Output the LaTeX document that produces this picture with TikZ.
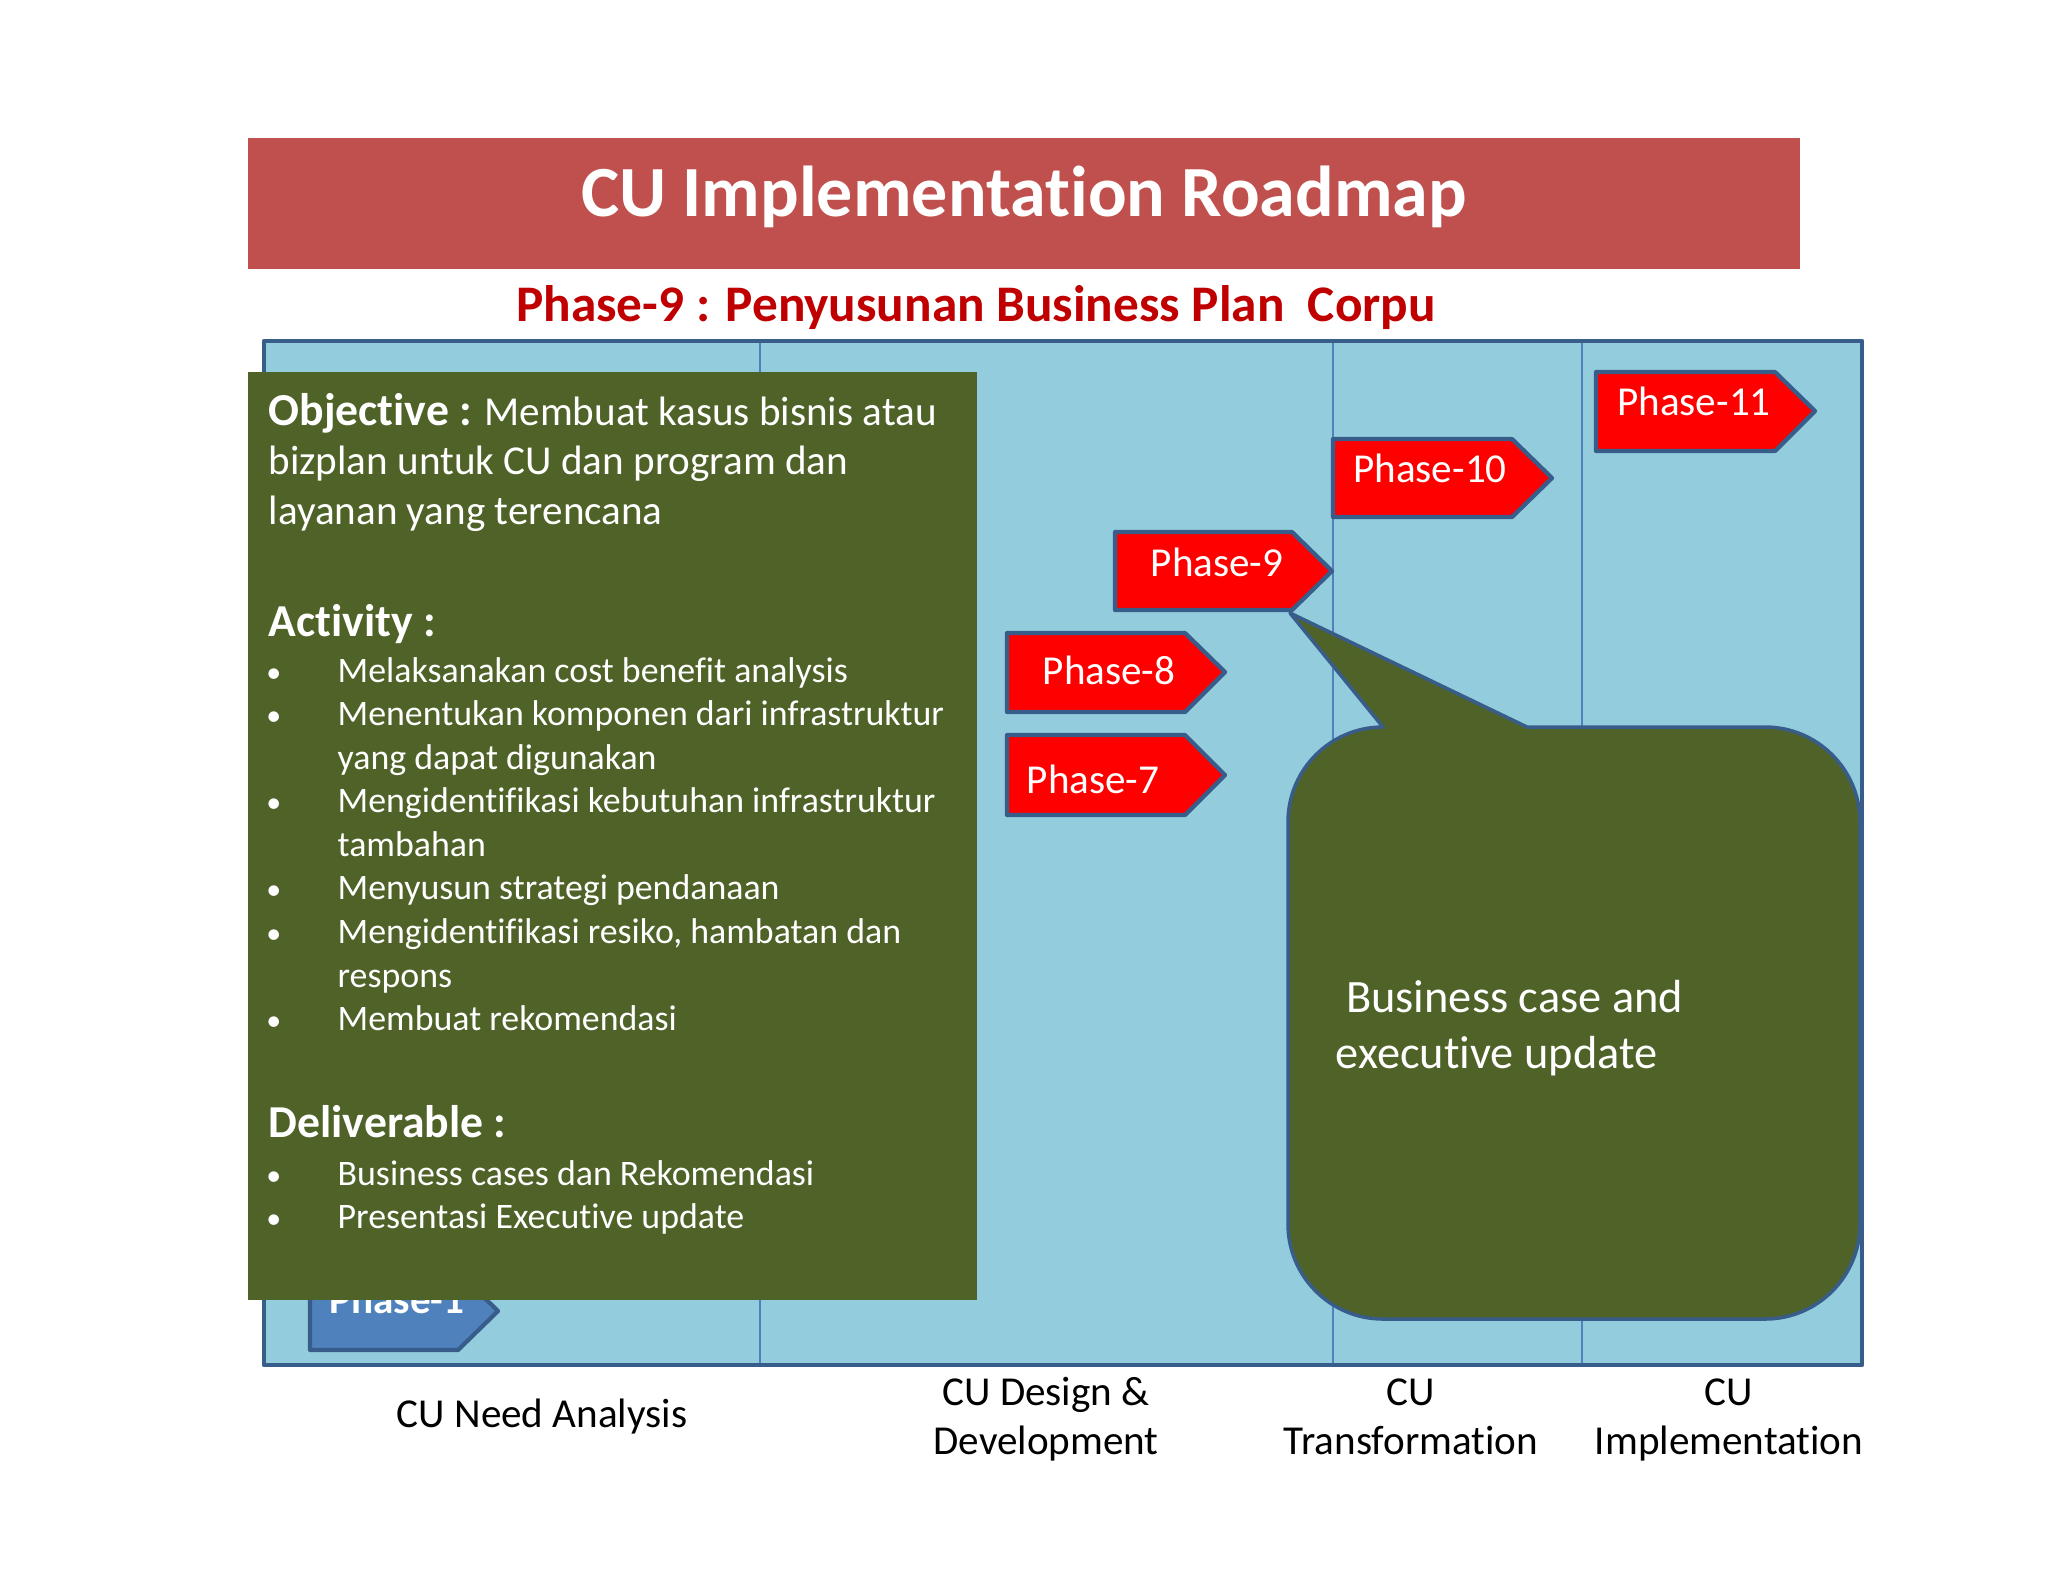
\documentclass[tikz,border=0pt]{standalone}
\usepackage{fontspec}
\setmainfont{Carlito}[Ligatures=NoCommon]
\definecolor{titlered}{HTML}{C0504D}
\definecolor{subred}{HTML}{C00000}
\definecolor{panelblue}{HTML}{93CDDD}
\definecolor{edgeblue}{HTML}{385D8A}
\definecolor{lineblue}{HTML}{4F81BD}
\definecolor{olive}{HTML}{4F6228}
\newcommand\blt{\makebox[0pt]{\fontsize{8.5}{8}\selectfont\textbullet}}
\begin{document}
\begin{tikzpicture}[x=0.1mm,y=-0.1mm,line join=round,
	phase/.style={fill=red,draw=edgeblue,line width=1.2pt},
	ptext/.style={text=white,anchor=base,font=\fontsize{11.7}{14}\selectfont},
	lab/.style={anchor=base,font=\fontsize{11.7}{14}\selectfont},
	wtext/.style={text=white,anchor=base west,inner sep=0pt},
	head/.style={wtext,font=\bfseries\fontsize{13}{15}\selectfont}]
	\useasboundingbox (0,0) rectangle (2048,1582);
	\fill[white] (0,0) rectangle (2048,1582);
	% title bar
	\fill[titlered] (248,138) rectangle (1800,269);
	\node[text=white,anchor=base,font=\bfseries\fontsize{20.5}{24}\selectfont] (title) at (1024,216) {CU Implementation Roadmap};
	\node[text=subred,anchor=base,font=\bfseries\fontsize{14.6}{17}\selectfont] (sub) at (976,321) {Phase-9 : Penyusunan Business Plan\ \ Corpu};
	% panel
	\fill[panelblue] (264,341) rectangle (1862,1365);
	\draw[lineblue,line width=0.6pt] (760,341)--(760,1365) (1333,341)--(1333,1365) (1582,341)--(1582,1365);
	\draw[edgeblue,line width=1.2pt] (264,341) rectangle (1862,1365);
	% phase-1, under the box
	\draw[edgeblue,fill=lineblue,line width=1.2pt] (310,1272)--(458,1272)--(498,1311)--(458,1350)--(310,1350)--cycle;
	\node[ptext,font=\bfseries\fontsize{11.7}{14}\selectfont] (p1) at (397,1313) {Phase-1};
	% red phases
	\draw[phase] (1596,372)--(1775,372)--(1815,411)--(1775,451)--(1596,451)--cycle;
	\node[ptext] (p11) at (1694,415) {Phase-11};
	\draw[phase] (1333,439)--(1512,439)--(1552,478)--(1512,517)--(1333,517)--cycle;
	\node[ptext] (p10) at (1430,482) {Phase-10};
	\draw[phase] (1115,532)--(1292,532)--(1332,571)--(1292,610)--(1115,610)--cycle;
	\node[ptext] (p9) at (1217,576) {Phase-9};
	\draw[phase] (1007,633)--(1185,633)--(1225,672)--(1185,712)--(1007,712)--cycle;
	\node[ptext] (p8) at (1109,684) {Phase-8};
	\draw[phase] (1007,735)--(1185,735)--(1225,775)--(1185,815)--(1007,815)--cycle;
	\node[ptext] (p7) at (1093,793) {Phase-7};
	% callout
	\draw[fill=olive,draw=edgeblue,line width=1pt] (1383,727)--(1290,613)--(1527,727)--(1765,727)
		arc[start angle=-90,end angle=0,radius=95]--(1860,1224)
		arc[start angle=0,end angle=90,radius=95]--(1383,1319)
		arc[start angle=90,end angle=180,radius=95]--(1288,822)
		arc[start angle=180,end angle=270,radius=95]--cycle;
	\node[wtext,font=\fontsize{13.2}{16.2}\selectfont] (note) at (1335,1012) {\begin{tabular}[t]{@{}l@{}}\hspace{3pt}Business case and\\executive update\end{tabular}};
	% info box
	\fill[olive] (248,372) rectangle (977,1300);
	\node[wtext,font=\fontsize{11.7}{14.2}\selectfont] (obj) at (268,425) {\begin{tabular}[t]{@{}l@{}}{\bfseries\fontsize{13}{14.2}\selectfont Objective :} Membuat kasus bisnis atau\\bizplan untuk CU dan program dan\\layanan yang terencana\end{tabular}};
	\node[head] (act) at (268,636) {Activity :};
	\node[wtext,font=\fontsize{10.2}{12.4}\selectfont] (actlist) at (273,682) {\begin{tabular}[t]{@{}p{18.2pt}@{}l@{}}
		\blt & Melaksanakan cost benefit analysis\\
		\blt & Menentukan komponen dari infrastruktur\\
		& yang dapat digunakan\\
		\blt & Mengidentifikasi kebutuhan infrastruktur\\
		& tambahan\\
		\blt & Menyusun strategi pendanaan\\
		\blt & Mengidentifikasi resiko, hambatan dan\\
		& respons\\
		\blt & Membuat rekomendasi\end{tabular}};
	\node[head] (del) at (268,1137) {Deliverable :};
	\node[wtext,font=\fontsize{10.2}{12.4}\selectfont] (dellist) at (273,1185) {\begin{tabular}[t]{@{}p{18.2pt}@{}l@{}}
		\blt & Business cases dan Rekomendasi\\
		\blt & Presentasi Executive update\end{tabular}};
	% stage labels
	\node[lab] (need) at (542,1427) {CU Need Analysis};
	\node[lab] (design) at (1046,1405) {\begin{tabular}[t]{@{}c@{}}CU Design \&\\Development\end{tabular}};
	\node[lab] (trans) at (1411,1405) {\begin{tabular}[t]{@{}c@{}}CU\\Transformation\end{tabular}};
	\node[lab] (impl) at (1729,1405) {\begin{tabular}[t]{@{}c@{}}CU\\Implementation\end{tabular}};
\end{tikzpicture}
\end{document}
